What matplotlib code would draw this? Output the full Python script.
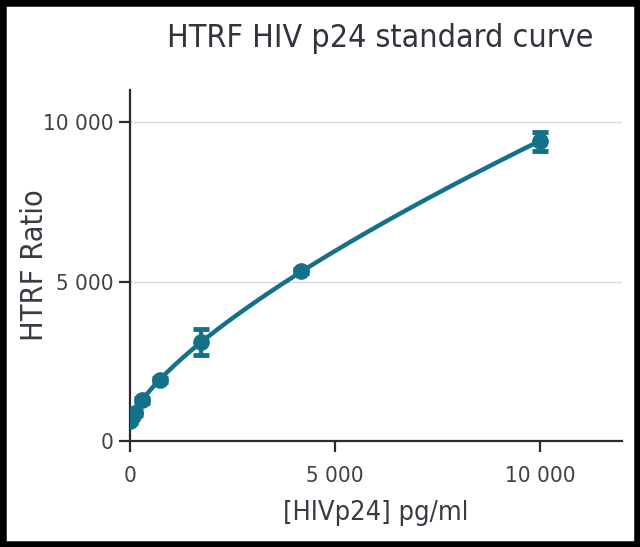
import numpy as np
import matplotlib
matplotlib.use("Agg")
import matplotlib.pyplot as plt
from matplotlib.patches import Rectangle
from matplotlib.ticker import FuncFormatter
from matplotlib import font_manager as fm

# Data
conc = [0, 52, 126, 301, 723, 1736, 4167, 10000]          # [HIVp24] pg/ml
ratio = [620, 760, 880, 1270, 1920, 3100, 5330, 9400]      # HTRF Ratio
ratio_err = [60, 80, 60, 80, 60, 400, 60, 300]

x_ticks = [0, 5000, 10000]
y_ticks = [0, 5000, 10000]
title = "HTRF HIV p24 standard curve"
xlabel = "[HIVp24] pg/ml"
ylabel = "HTRF Ratio"

color = "#13718a"

# find a narrow/condensed font if one is installed
cands = []
for f in fm.fontManager.ttflist:
    st = f.stretch
    narrow = ("Narrow" in f.name or "Condensed" in f.name or
              (isinstance(st, str) and "condensed" in st) or
              (isinstance(st, (int, float)) and st < 100))
    if narrow and f.style == "normal":
        cands.append(f)
if cands:
    f = sorted(cands, key=lambda f: (0 if "Liberation" in f.name else 1,
                                     abs((f.weight if isinstance(f.weight, int) else 400) - 350)))[0]
    fam = [f.name, "DejaVu Sans"]
    stretch = f.stretch
    weight = f.weight
else:
    fam = ["DejaVu Sans"]
    stretch = "normal"
    weight = "normal"
plt.rcParams["font.family"] = fam
plt.rcParams["font.stretch"] = stretch
plt.rcParams["font.weight"] = weight

fig = plt.figure(figsize=(6.4, 5.47), dpi=100)
ax = fig.add_axes([0.203, 0.194, 0.769, 0.641])

# fitted curve: y = a + b * x^c (least squares over c grid)
xa = np.array(conc, float)
ya = np.array(ratio, float)
best = None
for c in np.linspace(0.3, 1.2, 901):
    A = np.vstack([np.ones_like(xa), xa ** c]).T
    coef, res, *_ = np.linalg.lstsq(A, ya, rcond=None)
    err = np.sum((A @ coef - ya) ** 2)
    if best is None or err < best[0]:
        best = (err, coef, c)
_, (a, b), c = best
xf = np.linspace(0, max(conc), 400)
ax.plot(xf, a + b * xf ** c, color=color, lw=3.2, zorder=3, solid_capstyle="round")

ax.errorbar(conc, ratio, yerr=ratio_err, fmt="o", color=color, ms=11,
            elinewidth=3, capsize=6, capthick=3.5, zorder=4)

ax.set_xlim(0, 12000)
ax.set_ylim(0, 11000)
ax.set_xticks(x_ticks)
ax.set_yticks(y_ticks)
fmt = FuncFormatter(lambda v, p: f"{int(v):,}".replace(",", " "))
ax.xaxis.set_major_formatter(fmt)
ax.yaxis.set_major_formatter(fmt)

for s in ["top", "right"]:
    ax.spines[s].set_visible(False)
for s in ["left", "bottom"]:
    ax.spines[s].set_color("#2a2a35")
    ax.spines[s].set_linewidth(1.6)
ax.tick_params(direction="out", length=8, width=1.6, color="#2a2a35",
               labelsize=16, labelcolor="#404048", pad=4)
ax.tick_params(axis="x", pad=10)

ax.yaxis.grid(True, color="#d8dbe0", lw=1)
ax.set_axisbelow(True)
ax.set_facecolor("white")

ax.set_xlabel(xlabel, fontsize=19.5, color="#3a3a45", labelpad=10)
fig.text(35 / 640, 1 - 265 / 547, ylabel, fontsize=22, color="#3a3a45",
         rotation=90, ha="center", va="center")
fig.text(0.594, 0.93, title, fontsize=23, color="#33333d",
         ha="center", va="center")

fig.patches.append(Rectangle((0, 0), 1, 1, transform=fig.transFigure,
                             fill=False, edgecolor="black", lw=9, zorder=10))

fig.savefig("out.png", dpi=100, facecolor="white")
